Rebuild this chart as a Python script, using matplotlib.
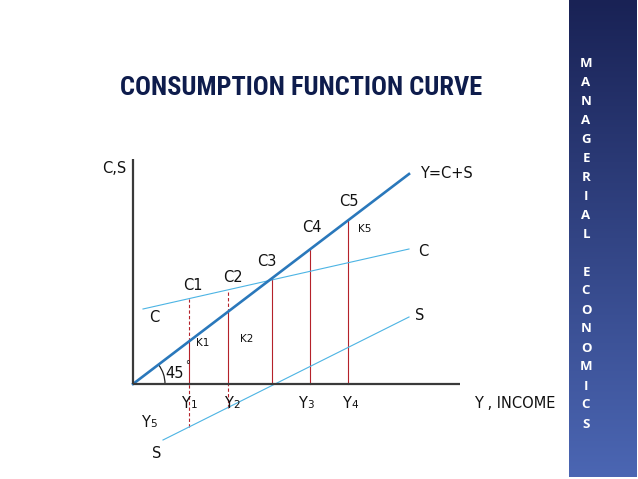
import numpy as np
import matplotlib
matplotlib.use("Agg")
import matplotlib.pyplot as plt
from matplotlib.patches import Arc
from matplotlib import font_manager

# ---------------- data (chart units: origin at the axes corner) ----------------
line_45_x = [0, 276]
line_45_y = [0, 210]
c_line_x = [10, 276]
c_line_y = [75, 135]
s_line_x = [30, 276]
s_line_y = [-56, 67]
verticals_dashed = [56, 95]          # Y1, Y2 (from S line up to C line)
verticals_solid = [139, 177, 215]    # C3, C4, C5 (from axis to 45-degree line)
y_axis_top = 225
x_axis_end = 327

title = "CONSUMPTION FUNCTION CURVE"
side_text = "MANAGERIAL ECONOMICS"

big_labels = [("C,S", -7, 216, "right"), ("Y=C+S", 287, 211, "left"),
              ("C5", 216, 183, "center"), ("C4", 179, 157, "center"),
              ("C", 290, 133, "center"), ("S", 287, 68, "center"),
              ("C3", 134, 122, "center"), ("C2", 100, 107, "center"),
              ("C1", 60, 98, "center"), ("C", 21, 67, "center"),
              ("S", 24, -69, "center"), ("Y , INCOME", 382, -19, "center")]
small_labels = [("K5", 232, 155), ("K1", 70, 41), ("K2", 114, 45)]
y_labels = [("1", 57, -19), ("2", 100, -19), ("3", 174, -19),
            ("4", 218, -19), ("5", 17, -38)]

avail = {f.name for f in font_manager.fontManager.ttflist}
title_font = [f for f in ["Liberation Sans Narrow", "Roboto Condensed", "Open Sans Condensed"] if f in avail]
title_font = title_font + ["DejaVu Sans"]

RED = "#b5222a"
BLUE = "#2a78bb"
LIGHT = "#4cb4e4"
AX = "#3a3a3a"

fig = plt.figure(figsize=(6.38, 4.79), dpi=100)
fig.patch.set_facecolor("white")

# sidebar
sb = fig.add_axes([569 / 638, 2 / 479, 68 / 638, 477 / 479])
top = np.array([0x19, 0x22, 0x55]) / 255
bot = np.array([0x4b, 0x66, 0xb3]) / 255
t = np.linspace(0, 1, 256)[:, None, None]
grad = top * (1 - t) + bot * t
grad = np.repeat(grad, 4, axis=1)
sb.imshow(grad, aspect="auto", extent=[0, 1, 0, 1])
sb.set_xlim(0, 1)
sb.set_ylim(0, 1)
sb.axis("off")

ax = fig.add_axes([0, 0, 1, 1])
ax.set_xlim(-133, 505)
ax.set_ylim(-95, 384)
ax.axis("off")

# sidebar letters (in main axes pixel coords)
for i, ch in enumerate(side_text):
    if ch == " ":
        continue
    ax.text(586 - 133, 384 - (63 + i * 19.0), ch, color="white", fontsize=9.5,
            fontweight="bold", family=["Open Sans", "DejaVu Sans"],
            ha="center", va="center")

# title
ax.text(301 - 133, 384 - 88, title, color="#0e1c4c", fontsize=19,
        fontweight="bold", family=title_font, ha="center", va="center")

# axes
ax.plot([0, 0], [0, y_axis_top], color=AX, lw=1.6, solid_capstyle="butt", zorder=5)
ax.plot([0, x_axis_end], [0, 0], color=AX, lw=1.6, solid_capstyle="butt", zorder=5)

# lines
ax.plot(c_line_x, c_line_y, color=LIGHT, lw=0.8, zorder=3)
ax.plot(s_line_x, s_line_y, color=LIGHT, lw=0.8, zorder=3)
ax.plot(line_45_x, line_45_y, color=BLUE, lw=1.9, zorder=4)


def on(xs, ys, x):
    return float(np.interp(x, xs, ys))


for x in verticals_dashed:
    yc = on(c_line_x, c_line_y, x)
    y45 = on(line_45_x, line_45_y, x)
    ys = on(s_line_x, s_line_y, x)
    ax.plot([x, x], [y45, yc], color=RED, lw=0.8, ls=(0, (3, 2)), zorder=2)
    ax.plot([x, x], [0, y45], color=RED, lw=0.8, zorder=2)
    ax.plot([x, x], [ys, 0], color=RED, lw=0.8, ls=(0, (3, 2)), zorder=2)

for x in verticals_solid:
    y45 = on(line_45_x, line_45_y, x)
    ax.plot([x, x], [0, y45], color=RED, lw=0.8, zorder=2)

# 45 degree arc
ang = np.degrees(np.arctan2(line_45_y[1], line_45_x[1]))
ax.add_patch(Arc((0, 0), 64, 64, theta1=0, theta2=ang, color="#222222", lw=0.9))
ax.text(42, 11, "45", fontsize=10.5, ha="center", va="center", color="#111111")
ax.text(55, 19, "°", fontsize=7, ha="center", va="center", color="#111111")

for s, x, y, ha in big_labels:
    ax.text(x, y, s, fontsize=10.5, ha=ha, va="center", color="#111111")
for s, x, y in small_labels:
    ax.text(x, y, s, fontsize=7.5, ha="center", va="center", color="#111111")
for d, x, y in y_labels:
    ax.text(x, y - 5, "Y", fontsize=10.5, ha="right", va="baseline", color="#111111")
    ax.text(x + 0.5, y - 5, d, fontsize=7.5, ha="left", va="baseline", color="#111111")

fig.savefig("out.png", dpi=100, facecolor="white")
